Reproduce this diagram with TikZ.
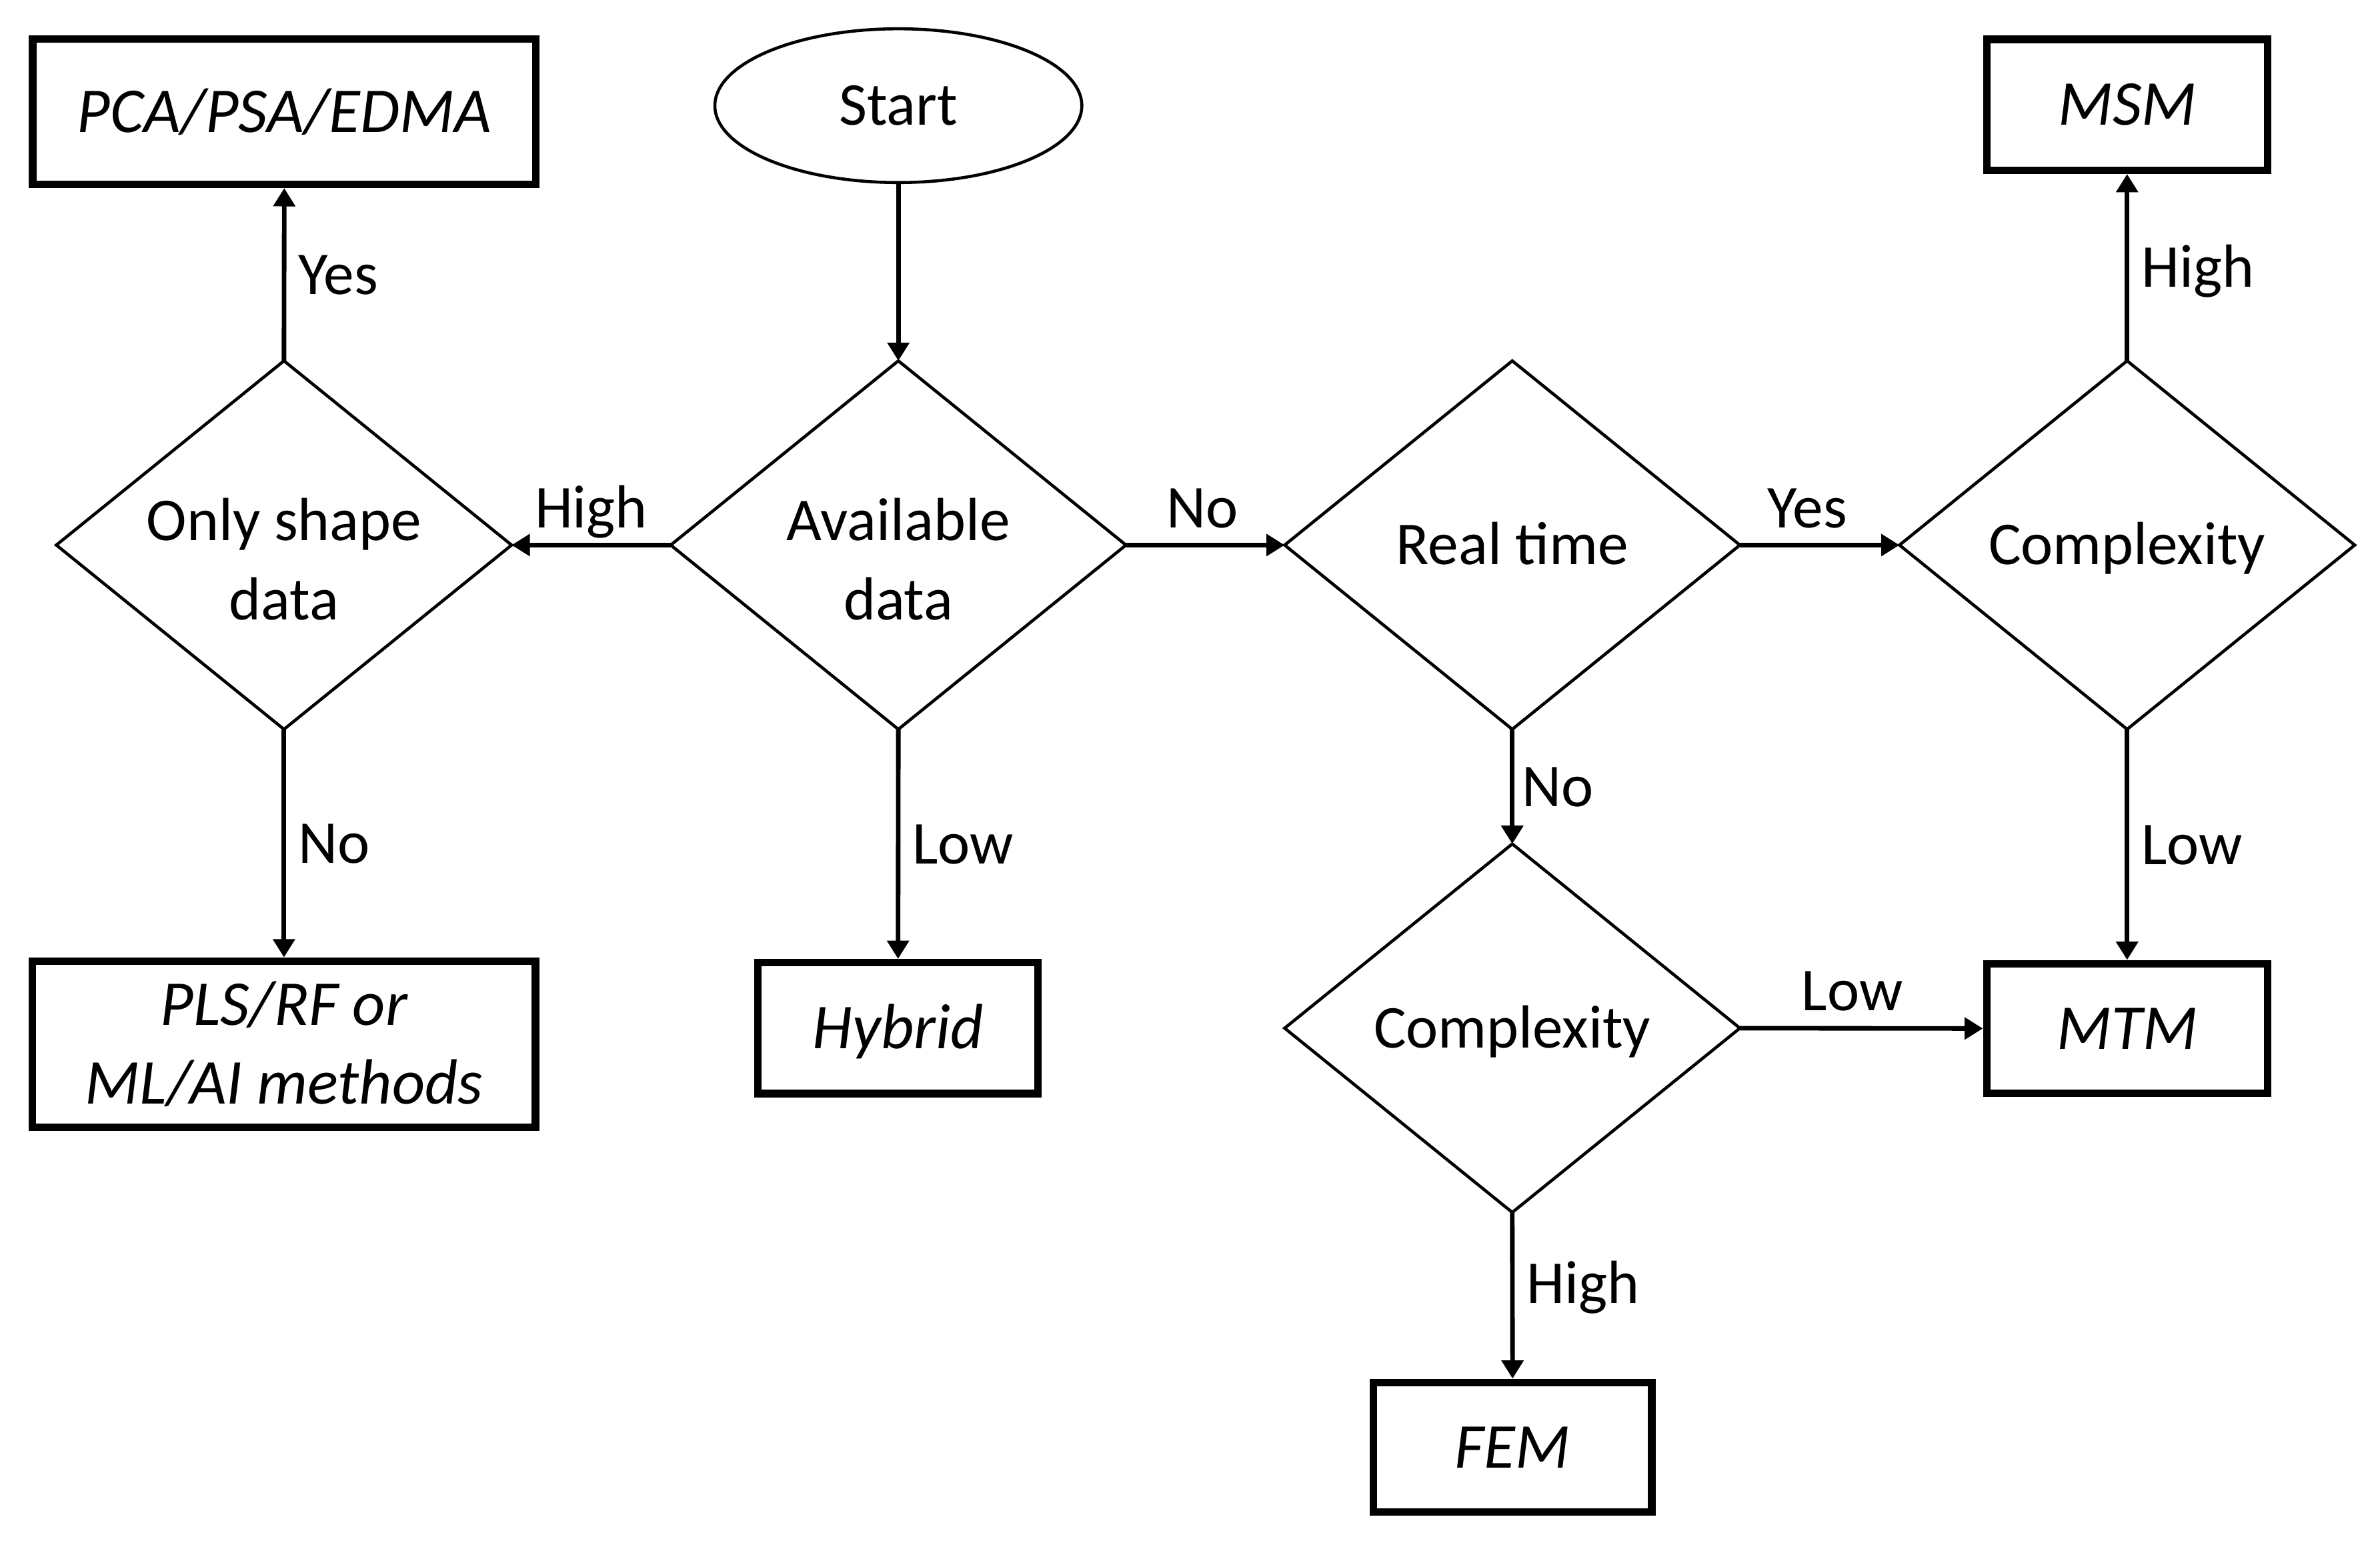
\documentclass[tikz,border=0pt]{standalone}
\usepackage{fontspec}
\setmainfont{Carlito}
\usetikzlibrary{shapes.geometric,arrows.meta}
\begin{document}
\begin{tikzpicture}[x=0.5pt,y=-0.5pt,
  every node/.style={font=\fontsize{20}{26}\selectfont},
  dia/.style={diamond,draw,line width=1pt,minimum width=149.5pt,minimum height=121pt,inner sep=0pt,outer sep=0pt},
  dtext/.style={align=center,inner sep=0pt,yshift=-4.6pt},
  stext/.style={inner sep=0pt,text height=12.9pt,text depth=0pt},
  box/.style={rectangle,draw,line width=2.5pt,inner sep=0pt,align=center,font=\fontsize{21}{26}\selectfont\itshape},
  capbox/.style={box,text height=13.5pt,text depth=0pt},
  startnode/.style={ellipse,draw,line width=1pt,minimum width=120.5pt,minimum height=50.5pt,inner sep=0pt,text height=12.9pt,text depth=0pt},
  arr/.style={line width=1.5pt,-{Triangle[length=6pt,width=7pt]}},
  side/.style={anchor=west,inner sep=0pt,text height=12.9pt,text depth=0pt,xshift=4pt},
  above lbl/.style={anchor=south,inner sep=0pt,text depth=0pt,yshift=5pt}
]
\useasboundingbox (0,0) rectangle (1563.1,1012.1);

% decision nodes
\node[dia,label={[dtext]center:{Only shape\\data}}] (only) at (186.5,358) {};
\node[dia,label={[dtext]center:{Available\\data}}] (avail) at (590,358) {};
\node[dia,label={[stext]center:{Real time}}] (real) at (993.2,358) {};
\node[dia,label={[stext]center:{Complexity}}] (cx1) at (1397,358) {};
\node[dia,label={[stext]center:{Complexity}}] (cx2) at (993.2,675.3) {};

% start
\node[startnode] (start) at (590,69.4) {Start};

% result boxes
\node[capbox,minimum width=165.3pt,minimum height=47.75pt] (pca) at (186.7,73.3) {PCA/PSA/EDMA};
\node[box,minimum width=165.25pt,minimum height=54.5pt] (pls) at (186.5,685.8) {PLS/RF or\\ML/AI methods};
\node[capbox,minimum width=92pt,minimum height=43pt] (hybrid) at (589.8,675.3) {Hybrid};
\node[capbox,minimum width=92.2pt,minimum height=43pt] (msm) at (1397,68.8) {MSM};
\node[capbox,minimum width=92.2pt,minimum height=42.5pt] (mtm) at (1397,675.5) {MTM};
\node[capbox,minimum width=91.5pt,minimum height=42.5pt] (fem) at (993.4,950.5) {FEM};

% connectors
\draw[arr] (start.south) -- (avail.north);
\draw[arr] (avail.west) -- node[above lbl]{High} (only.east);
\draw[arr] (avail.east) -- node[above lbl,xshift=-1pt]{No} (real.west);
\draw[arr] (real.east) -- node[above lbl,xshift=-4pt]{Yes} (cx1.west);
\draw[arr] (only.north) -- node[side]{Yes} (pca.south);
\draw[arr] (only.south) -- node[side]{No} (pls.north);
\draw[arr] (avail.south) -- node[side]{Low} (hybrid.north);
\draw[arr] (cx1.north) -- node[side]{High} (msm.south);
\draw[arr] (cx1.south) -- node[side]{Low} (mtm.north);
\draw[arr] (real.south) -- node[side,xshift=-1.5pt]{No} (cx2.north);
\draw[arr] (cx2.east) -- node[above lbl,xshift=-3pt]{Low} (mtm.west);
\draw[arr] (cx2.south) -- node[side,yshift=4pt]{High} (fem.north);
\end{tikzpicture}
\end{document}
